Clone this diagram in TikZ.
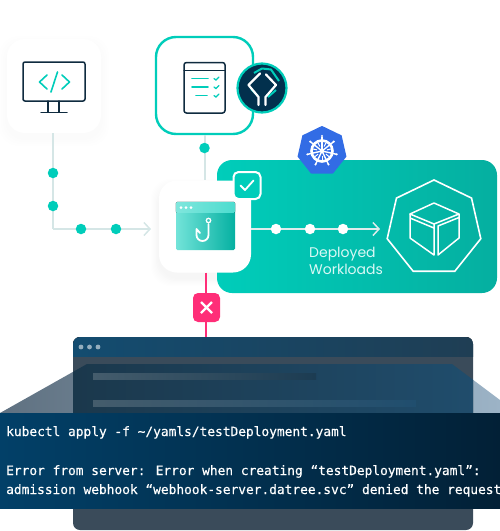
\documentclass[tikz,border=0pt]{standalone}
\usepackage{fontspec}
\setmainfont{Poppins}
\newfontfamily\termfont[FakeBold=0.35]{DejaVu Sans Mono}
\usetikzlibrary{arrows.meta,shapes.geometric,calc}
\definecolor{teal}{HTML}{00CDBA}
\definecolor{tealb}{HTML}{05AFA0}
\definecolor{navy}{HTML}{0F2B3F}
\definecolor{conn}{HTML}{D5E6E6}
\definecolor{pinkx}{HTML}{FF2E78}
\definecolor{kblue}{HTML}{326CE5}
\definecolor{sideL}{HTML}{5F7181}
\definecolor{sideR}{HTML}{9CB3C6}
\definecolor{termbody}{HTML}{3A4B5A}
\definecolor{headL}{HTML}{134C70}
\definecolor{headR}{HTML}{1F3E54}
\definecolor{innerL}{HTML}{1A3446}
\definecolor{innerR}{HTML}{204E6E}
\definecolor{barA}{HTML}{445C6C}
\definecolor{barL}{HTML}{024068}
\definecolor{barR}{HTML}{022036}
\tikzset{
  card/.style={draw=none,fill=white,rounded corners=18pt,minimum width=#1,minimum height=#1,inner sep=0},
  dotg/.style={circle,fill=teal,minimum size=10.5pt,inner sep=0},
  dotw/.style={circle,fill=white,minimum size=10.5pt,inner sep=0},
  connl/.style={draw=conn,line width=2pt},
  tip/.style={-{Straight Barb[length=6pt,width=13pt,line width=1.5pt]}},
  icond/.style={draw=navy,line width=1.5pt,line join=round,line cap=round},
  icont/.style={draw=teal,line width=1.6pt,line cap=round,line join=round},
  whitel/.style={draw=white,line width=1.5pt,line join=round,line cap=round},
  term/.style={font=\termfont\fontsize{12.85}{15}\selectfont,text=white,anchor=base west,inner sep=0},
}
\begin{document}
\begin{tikzpicture}[x=1pt,y=-1pt]
\useasboundingbox (0,0) rectangle (500,531);
\clip (0,0) rectangle (500,531);
% soft shadows
\foreach \g in {1,...,8}{
  \fill[black!55,opacity=.004,rounded corners=20pt] (7-\g,44-\g) rectangle (101+\g,138+\g);
  \fill[black!55,opacity=.006,rounded corners=20pt] (159-\g,187-\g) rectangle (251+\g,278+\g);
}
% connector anchors
\node[card=94pt] (cfg) at (54,86) {};
\node[card=97pt,draw=teal,line width=2.4pt,rounded corners=20pt] (pol) at (204.5,85.5) {};
\coordinate (corner) at (53,229);
\coordinate (hookin) at (151,229);
\coordinate (hookout) at (251,229);
\coordinate (wlin) at (380,229);
\coordinate (termtop) at (206,337);
% green panel
\node[rounded corners=15pt,left color=teal,right color=tealb,minimum width=280pt,minimum height=133pt,inner sep=0] (panel) at (357,226.5) {};
% kube badge
\node[regular polygon,regular polygon sides=7,fill=kblue,draw=kblue,line width=1.5pt,line join=round,minimum size=48.5pt,inner sep=0] (kube) at (322,151) {};
\begin{scope}[shift={(kube.center)}]
  \draw[white,line width=2.6pt] (0,0) circle (10.5pt);
  \fill[white] (0,0) circle (2.2pt);
  \foreach \a in {-90,-38.6,12.8,64.3,115.7,167.1,218.6}{
    \draw[white,line width=1.4pt] (0,0) -- (\a:14.5);
    \fill[white] (\a:15) circle (1.2pt);
    \draw[white,line width=1pt] (\a+25.7:5) -- (\a+25.7:9);
  }
\end{scope}
% webhook card
\node[card=92pt] (hook) at (205,226.5) {};
\node[fill=teal,rounded corners=5pt,draw=white,line width=2pt,minimum width=27pt,minimum height=27pt,inner sep=0] (ok) at (247,185.5) {};
\draw[whitel,line width=1.8pt] (240.5,185.5) -- (245,190) -- (253.5,180.5);
% connectors
\draw[connl] (cfg.south -| corner) -- (corner);
\draw[connl,tip] (corner) -- (hookin);
\draw[connl] (pol.south) -- (pol.south |- hook.north);
\draw[line width=2pt,draw=white!25!conn,tip] (hookout) -- (wlin);
\draw[draw=pinkx,line width=2.4pt] (hook.south -| termtop) -- (termtop);
\node[dotg] (d1) at (53,173) {};
\node[dotg] (d2) at (53,206) {};
\node[dotg] (d3) at (81,229) {};
\node[dotg] (d4) at (116,229) {};
\node[dotg] (d5) at (204.5,148) {};
\node[dotw] (d6) at (276,229) {};
\node[dotw] (d7) at (310,229) {};
\node[dotw] (d8) at (343,229) {};
% monitor icon
\draw[icond,rounded corners=2pt] (23,62) rectangle (85,101);
\draw[icond] (48,101) -- (48,112) (59,101) -- (59,112) (41,112.5) -- (67,112.5);
\draw[icont] (47,75) -- (39.5,82) -- (47,89) (62,75) -- (69.5,82) -- (62,89) (57.5,72) -- (51,92);
% doc icon
\draw[icond,rounded corners=2.5pt] (184,62.5) rectangle (225,113);
\draw[icond,line width=1.2pt] (184,70.5) -- (225,70.5);
\draw[icont] (192,78.5) -- (208,78.5) (192,87) -- (208,87) (196,95.5) -- (207,95.5);
\foreach \y in {78.5,87,95.5}{
  \draw[draw=teal,line width=1.3pt,line cap=round] (214,\y) -- (216,\y+1.5) -- (219,\y-1.5);
}
% datree badge
\node[circle,fill={rgb,255:red,2;green,48;blue,77},draw=teal,line width=2.2pt,minimum size=49pt,inner sep=0] (badge) at (262,88) {};
\draw[icont,line width=2pt,line cap=butt] (251,89) -- (258,96) (276,90) -- (268,97) (254,73) -- (262,68.5) -- (271,69.5) -- (279,81);
\draw[whitel,line width=2.2pt] (258.5,105) -- (258.5,97) -- (248.5,85) -- (260,73.5);
\draw[whitel,line width=2.2pt] (265.5,105) -- (265.5,97) -- (276,85) -- (266,74.5);
% hook window
\node[rounded corners=1.5pt,left color=teal!55!white,right color=tealb!95!teal,minimum width=59pt,minimum height=48pt,inner sep=0] (win) at (205.5,226) {};
\fill[left color=teal!50!white,right color=teal!70!white,rounded corners=1.5pt] (win.north west) rectangle ($(win.north east)+(0,11)$);
\foreach \x in {181,186,191}{ \fill[white] (\x,207.5) circle (1.5pt); }
\draw[whitel,line width=1.8pt] (208.5,224) -- (208.5,235) arc[start angle=0,end angle=-180,radius=6pt] -- (196.5,229) -- (200,233);
\draw[white,line width=1.3pt] (208.5,220.5) circle (2.2pt);
% workload icon
\node[regular polygon,regular polygon sides=7,draw=white,line width=1.6pt,minimum size=96pt,inner sep=0] (wl) at (434,228) {};
\draw[whitel] (434,203) -- (459,214) -- (434,224) -- (410,214) -- cycle;
\draw[whitel] (410,214) -- (410,238) -- (434,255) -- (434,224) (459,214) -- (459,238) -- (438,255) -- (438,226) -- (459,217.5) (410,218) -- (434,228);
\node[font=\fontsize{14}{17}\selectfont,text=white!85!teal,align=left,anchor=north west,inner sep=0] (lab) at (309,246.5) {Deployed\\Workloads};
% terminal
\path[left color=sideL,right color=sideR] (0,413) -- (87,364) -- (452,364) -- (500,400) -- (500,413) -- cycle;
\fill[termbody,rounded corners=7pt] (73,337) rectangle (473,530);
\begin{scope}
  \clip[rounded corners=7pt] (73,337) rectangle (473,530);
  \fill[left color=headL,right color=headR] (73,337) rectangle (473,356);
  \path[left color=innerL,right color=innerR] (0,413) -- (87,364) -- (452,364) -- (500,400) -- (500,413) -- cycle;
\end{scope}
\node[minimum width=400pt,minimum height=193pt,inner sep=0] (termbox) at (273,433.5) {};
\foreach \x in {81,89.5,98}{ \fill[white,opacity=.55] (\x,347) circle (2.4pt); }
\path[left color=barA,right color=innerL!70!innerR] (93,373) rectangle (316,379);
\path[left color=barA,right color=innerR] (93,400) rectangle (416,406);
\node[inner sep=0,minimum width=500pt,minimum height=95pt,left color=barL,right color=barR] (bar) at (250,460.5) {};
\node[term] (t1) at (6,436) {kubectl apply -f \string~/yamls/testDeployment.yaml};
\node[term] (t2) at (6,475) {Error from server: Error when creating “testDeployment.yaml”:};
\node[term] (t3) at (6,494) {admission webhook “webhook-server.datree.svc” denied the request};
% reject badge
\node[fill=pinkx,rounded corners=5pt,minimum width=27pt,minimum height=29pt,inner sep=0] (rej) at (206.5,307.5) {};
\draw[white,line width=2.2pt] (201,302) -- (212,313) (212,302) -- (201,313);
\end{tikzpicture}
\end{document}
